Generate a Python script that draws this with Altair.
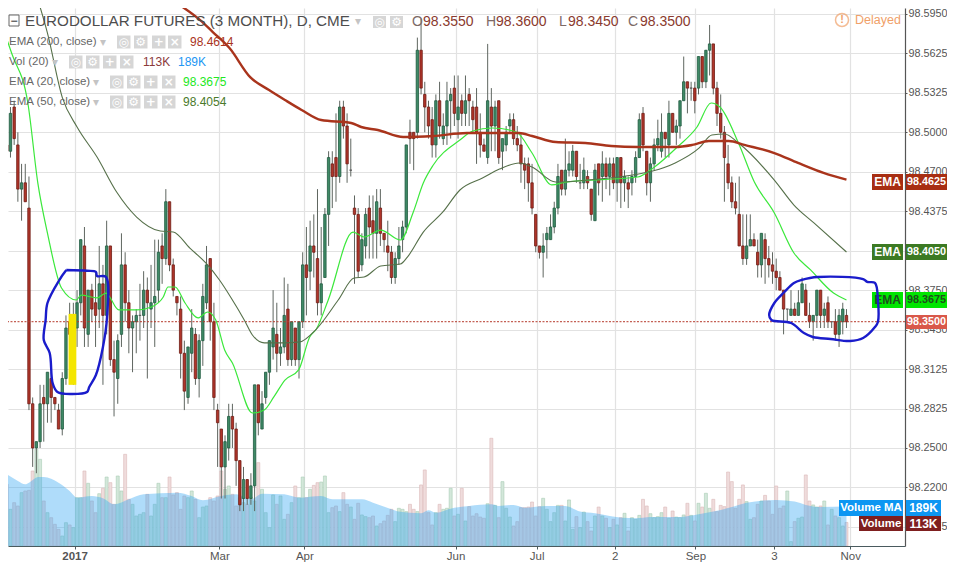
import altair as alt
import pandas as pd

OPEN = [98.49,98.485,98.52,98.49,98.455,98.46,98.44,98.285,98.25,98.255,
98.29,98.285,98.305,98.29,98.28,98.265,98.305,98.35,98.345,98.345,
98.365,98.41,98.34,98.375,98.365,98.36,98.38,98.355,98.41,98.32,
98.305,98.34,98.395,98.365,98.345,98.35,98.355,98.355,98.375,98.36,
98.365,98.375,98.41,98.4,98.445,98.395,98.37,98.36,98.325,98.29,
98.325,98.34,98.305,98.335,98.365,98.4,98.35,98.28,98.265,98.235,
98.25,98.275,98.265,98.24,98.21,98.225,98.21,98.22,98.3,98.265,
98.29,98.31,98.33,98.34,98.325,98.33,98.36,98.32,98.345,98.32,
98.35,98.395,98.39,98.41,98.4,98.365,98.385,98.435,98.475,98.48,
98.465,98.52,98.505,98.47,98.44,98.435,98.395,98.41,98.44,98.43,
98.42,98.44,98.42,98.41,98.405,98.385,98.4,98.415,98.425,98.5,
98.5,98.5,98.565,98.53,98.52,98.51,98.49,98.525,98.495,98.505,
98.525,98.535,98.51,98.525,98.515,98.53,98.52,98.52,98.5,98.49,
98.48,98.52,98.505,98.525,98.485,98.49,98.505,98.51,98.495,98.49,
98.475,98.475,98.46,98.435,98.41,98.405,98.415,98.415,98.425,98.44,
98.47,98.455,98.47,98.47,98.485,98.46,98.46,98.465,98.455,98.43,
98.475,98.465,98.475,98.465,98.475,98.46,98.48,98.46,98.46,98.46,
98.465,98.48,98.515,98.485,98.46,98.475,98.49,98.485,98.5,98.49,
98.515,98.5,98.505,98.525,98.54,98.535,98.535,98.535,98.56,98.54,
98.565,98.57,98.535,98.515,98.5,98.475,98.46,98.445,98.435,98.41,
98.4,98.41,98.415,98.405,98.395,98.415,98.4,98.395,98.39,98.385,
98.375,98.36,98.355,98.36,98.355,98.365,98.375,98.355,98.35,98.355,
98.375,98.355,98.365,98.35,98.35,98.34,98.35,98.355]
CLOSE = [98.485,98.515,98.495,98.455,98.46,98.445,98.285,98.25,98.255,98.285,
98.285,98.31,98.29,98.285,98.265,98.305,98.345,98.34,98.35,98.365,
98.415,98.345,98.375,98.36,98.355,98.38,98.355,98.41,98.32,98.31,
98.335,98.395,98.365,98.345,98.35,98.355,98.355,98.375,98.365,98.365,
98.37,98.405,98.4,98.445,98.395,98.375,98.365,98.325,98.295,98.33,
98.345,98.305,98.335,98.37,98.395,98.35,98.29,98.27,98.235,98.255,
98.275,98.265,98.24,98.205,98.225,98.21,98.22,98.3,98.27,98.285,
98.31,98.335,98.345,98.325,98.33,98.355,98.32,98.35,98.32,98.35,
98.395,98.385,98.41,98.405,98.365,98.38,98.435,98.48,98.465,98.465,
98.52,98.505,98.475,98.47,98.435,98.39,98.415,98.435,98.425,98.42,
98.445,98.42,98.415,98.405,98.385,98.4,98.41,98.425,98.49,98.495,
98.495,98.565,98.535,98.52,98.505,98.49,98.525,98.505,98.505,98.525,
98.53,98.515,98.52,98.515,98.525,98.525,98.51,98.5,98.49,98.485,
98.525,98.505,98.52,98.48,98.495,98.5,98.51,98.495,98.49,98.475,
98.47,98.46,98.44,98.41,98.405,98.41,98.42,98.425,98.44,98.465,
98.455,98.47,98.475,98.485,98.465,98.46,98.47,98.46,98.435,98.47,
98.46,98.475,98.465,98.475,98.46,98.48,98.46,98.465,98.455,98.465,
98.48,98.51,98.49,98.46,98.475,98.49,98.495,98.5,98.495,98.515,
98.5,98.505,98.525,98.54,98.535,98.535,98.525,98.56,98.54,98.565,
98.57,98.535,98.515,98.5,98.48,98.46,98.445,98.44,98.41,98.4,
98.41,98.415,98.41,98.395,98.42,98.4,98.395,98.39,98.385,98.375,
98.36,98.36,98.36,98.355,98.365,98.38,98.355,98.35,98.355,98.375,
98.355,98.36,98.35,98.35,98.34,98.355,98.36,98.35]
HIGH = [98.5,98.52,98.525,98.5,98.475,98.475,98.465,98.29,98.255,98.3,
98.3,98.31,98.31,98.29,98.285,98.31,98.355,98.365,98.365,98.375,
98.415,98.425,98.375,98.38,98.39,98.41,98.395,98.43,98.41,98.335,
98.34,98.42,98.405,98.375,98.355,98.36,98.38,98.39,98.385,98.395,
98.415,98.415,98.42,98.455,98.445,98.4,98.37,98.37,98.335,98.33,
98.36,98.345,98.34,98.38,98.41,98.4,98.365,98.285,98.265,98.26,
98.285,98.285,98.27,98.24,98.235,98.225,98.23,98.3,98.3,98.295,
98.31,98.335,98.375,98.365,98.345,98.385,98.38,98.35,98.345,98.35,
98.405,98.425,98.43,98.435,98.455,98.425,98.44,98.485,98.485,98.515,
98.525,98.525,98.515,98.495,98.45,98.44,98.42,98.44,98.45,98.45,
98.455,98.455,98.42,98.43,98.41,98.405,98.425,98.43,98.49,98.51,
98.5,98.575,98.59,98.54,98.525,98.52,98.53,98.54,98.515,98.54,
98.535,98.545,98.545,98.53,98.545,98.535,98.525,98.535,98.515,98.495,
98.57,98.535,98.525,98.525,98.495,98.505,98.515,98.515,98.505,98.5,
98.48,98.48,98.475,98.435,98.41,98.42,98.425,98.435,98.445,98.475,
98.47,98.495,98.485,98.49,98.485,98.475,98.48,98.47,98.455,98.475,
98.475,98.485,98.48,98.48,98.48,98.48,98.48,98.47,98.465,98.47,
98.485,98.515,98.52,98.485,98.48,98.495,98.51,98.515,98.5,98.525,
98.515,98.51,98.525,98.56,98.54,98.54,98.54,98.56,98.56,98.565,
98.585,98.57,98.54,98.53,98.505,98.49,98.465,98.46,98.465,98.435,
98.435,98.435,98.42,98.415,98.42,98.42,98.41,98.405,98.4,98.39,
98.375,98.36,98.375,98.365,98.375,98.385,98.38,98.365,98.355,98.375,
98.375,98.365,98.37,98.35,98.36,98.36,98.365,98.36]
LOW = [98.47,98.48,98.49,98.445,98.43,98.445,98.28,98.235,98.23,98.25,
98.255,98.27,98.27,98.28,98.265,98.26,98.3,98.33,98.3,98.33,
98.355,98.33,98.33,98.35,98.33,98.345,98.3,98.34,98.315,98.275,
98.285,98.33,98.35,98.325,98.31,98.325,98.335,98.345,98.305,98.345,
98.33,98.365,98.38,98.395,98.39,98.37,98.355,98.305,98.28,98.285,
98.31,98.3,98.29,98.315,98.36,98.335,98.28,98.235,98.21,98.21,
98.24,98.25,98.22,98.2,98.2,98.205,98.205,98.2,98.26,98.265,
98.285,98.3,98.32,98.31,98.315,98.325,98.315,98.315,98.315,98.305,
98.345,98.355,98.375,98.385,98.355,98.355,98.385,98.41,98.44,98.445,
98.46,98.495,98.46,98.465,98.38,98.385,98.39,98.4,98.4,98.4,
98.4,98.41,98.405,98.39,98.38,98.38,98.395,98.405,98.42,98.475,
98.47,98.495,98.53,98.5,98.495,98.48,98.48,98.495,98.49,98.49,
98.495,98.505,98.495,98.505,98.505,98.505,98.5,98.475,98.48,98.485,
98.475,98.485,98.485,98.475,98.47,98.485,98.5,98.49,98.485,98.46,
98.455,98.445,98.435,98.405,98.4,98.385,98.4,98.415,98.42,98.435,
98.45,98.45,98.465,98.465,98.46,98.455,98.455,98.455,98.43,98.43,
98.45,98.445,98.455,98.45,98.455,98.445,98.44,98.445,98.44,98.45,
98.46,98.48,98.485,98.45,98.445,98.47,98.485,98.48,98.48,98.48,
98.5,98.49,98.495,98.525,98.515,98.525,98.515,98.53,98.535,98.535,
98.545,98.53,98.505,98.495,98.445,98.455,98.44,98.435,98.41,98.395,
98.395,98.41,98.41,98.385,98.385,98.38,98.385,98.38,98.375,98.375,
98.34,98.35,98.355,98.355,98.355,98.365,98.355,98.345,98.335,98.345,
98.345,98.345,98.345,98.345,98.335,98.33,98.34,98.345]
VOLUME_K = [296,176,208,192,256,264,267,360,464,416,
216,160,136,104,80,48,112,101,88,232,
232,360,301,216,160,251,277,331,304,200,
336,264,440,224,200,144,152,160,248,144,
200,301,232,232,331,245,256,176,240,232,
264,224,136,187,192,232,216,240,360,272,
288,248,192,232,208,200,235,216,400,272,
160,88,245,200,240,128,152,208,288,232,
331,232,272,291,304,307,336,160,184,192,
165,256,200,187,128,205,149,141,136,144,
96,107,120,147,176,117,181,176,165,200,
176,165,293,365,160,101,160,200,176,181,
277,144,152,277,120,189,144,155,139,133,
203,517,195,136,309,181,139,96,117,184,
184,187,211,144,189,229,176,117,160,195,
195,120,221,80,141,88,163,117,72,144,
187,144,133,88,128,101,136,157,72,136,
128,147,224,192,155,136,141,160,187,133,
168,139,136,149,205,147,120,205,187,253,
181,224,165,195,189,355,309,181,224,293,
213,128,136,200,216,243,216,152,288,181,
192,264,21,117,133,139,341,216,197,187,
192,216,101,176,144,136,96,113]

VOL_MA_BAR = [0,3,5,6,8.5,10,14,17,19,23,26,29,33,37,46,50,53,58,62,66,69,75,79,85,88,90,96,99,104,106,112,114,116,121,125,131,133,137,140,146,151,155,159,163,170,174,181,186,191,196,200,208,213,216,220,227]
VOL_MA_K = [344,312,296,304,331,331,304,264,232,240,229,200,224,248,256,240,219,240,248,224,251,248,232,240,224,224,224,208,176,165,157,171,160,184,192,200,192,197,184,192,192,165,157,144,133,139,139,149,165,187,208,221,213,197,187,189]

EMA200_BAR = [45.5,52.2,55.7,60.2,65.8,70.9,75.2,79.7,85,93.1,95.8,100.3,107.2,115.3,124.4,138.5,142,148.4,156.4,163.4,170.6,180.7,185.3,189.8,195.2,199.4,207.5,213.9,220.8,227]
EMA200 = [98.6032,98.589,98.5794,98.5667,98.5437,98.5335,98.5256,98.5177,98.5097,98.5074,98.5042,98.5018,98.4963,98.4971,98.4994,98.4994,98.4971,98.4923,98.4915,98.4892,98.4884,98.4884,98.49,98.4931,98.4931,98.49,98.4836,98.4757,98.4678,98.4625]
EMA50_BAR = [8.6,11,15,19,24.4,29.7,35.1,41.5,45,49.5,53.8,57.5,60.5,64.2,66.4,69.6,74.9,79.2,83.7,89.6,93.9,96.6,101.1,106.4,108.3,112.6,117.9,122.5,128.6,133.2,138.5,142,148.4,157.2,169.2,174.6,180.7,187.2,190.6,194.1,197.8,207.5,212.8,218.2,227]
EMA50 = [98.6032,98.5786,98.5277,98.5042,98.4804,98.4527,98.4329,98.4218,98.421,98.4083,98.3965,98.383,98.3696,98.3514,98.3395,98.3332,98.3332,98.334,98.3442,98.3672,98.3846,98.3854,98.3941,98.3957,98.4012,98.421,98.4369,98.4543,98.4638,98.4709,98.4757,98.4725,98.4606,98.4622,98.4662,98.4693,98.4757,98.4876,98.4979,98.4987,98.4915,98.4622,98.4424,98.4282,98.4052]
EMA20_BAR = [0,1.4,5.7,8.4,11,14.8,18.8,20.1,24.4,26.8,30.3,35.1,39.1,42.3,43.6,45.5,48.2,51.7,54.3,56.5,58.9,61,66.4,69.6,72.2,75.2,78.9,81.9,83.7,86.9,93.6,96.6,101.1,106.4,109.9,112.6,115.3,122.5,126,131.3,137.7,142,147.3,151.1,170.6,175.1,181.3,186.6,190.4,192.8,197.8,202.1,207.5,212.8,217.3,223.5,227]
EMA20 = [98.5739,98.562,98.5232,98.4598,98.4202,98.3767,98.3672,98.3711,98.3688,98.3727,98.3593,98.3593,98.3617,98.3696,98.3775,98.3775,98.3648,98.353,98.3577,98.3513,98.3276,98.3173,98.2777,98.2801,98.2904,98.3038,98.3118,98.3379,98.3442,98.3672,98.421,98.4171,98.4226,98.4147,98.4369,98.4598,98.4741,98.4939,98.501,98.5034,98.5002,98.4836,98.4583,98.4606,98.4646,98.4725,98.4884,98.5042,98.5232,98.52,98.4915,98.4606,98.4361,98.4044,98.391,98.3727,98.3672]

LOOP_L_BAR = [16.1,21.7,24.1,24.4,26.8,27.1,26,24.1,22.3,21.7,17.5,13.7,12.4,11.6,10,10.5,11,14.2,16.1]
LOOP_L = [98.3909,98.3903,98.3895,98.3862,98.3855,98.3537,98.33,98.3078,98.2983,98.2943,98.2927,98.2943,98.3014,98.3252,98.3355,98.3513,98.3648,98.383,98.3909]
LOOP_R_BAR = [214.7,219.2,231.5,232.6,234.7,235.5,235.5,234.7,231.5,228,222.7,217.9,215.5,212,206.7,206.1,207.5,210.2,212.8,214.7]
LOOP_R = [98.383,98.3854,98.3838,98.3815,98.3807,98.3672,98.3498,98.3458,98.3371,98.3347,98.3363,98.3379,98.341,98.349,98.3514,98.3553,98.3648,98.3735,98.3807,98.383]
YELLOW_BAR = [16.7, 18.8]
YELLOW_PRICE = [98.3562, 98.3]

PRICE_TICKS = [98.59375,98.5625,98.53125,98.5,98.46875,98.4375,98.40625,98.375,98.34375,98.3125,98.28125,98.25,98.21875,98.1875]
PRICE_LABELS = ["98.5950","98.5625","98.5325","98.5000","98.4700","98.4375","98.4050","98.3750","98.3450","98.3125","98.2825","98.2500","98.2200","98.1875"]
DATE_TICKS = [18.33,57.46,80.44,121.33,143.24,164.35,186.16,207.38,228.03]
DATE_LABELS = ["2017","Mar","Apr","Jun","Jul","2","Sep","3","Nov"]
LAST_PRICE = 98.35

FONT = "Liberation Sans"
X_DOMAIN = [1.684, 241.47]
Y_DOMAIN = [98.17237, 98.59844]
VOL_DOMAIN = [0, 2582]
xs = alt.Scale(domain=X_DOMAIN, nice=False, zero=False)
ys = alt.Scale(domain=Y_DOMAIN, nice=False, zero=False)
vs = alt.Scale(domain=VOL_DOMAIN, nice=False)

UP, DOWN = "#3f8a66", "#b0352a"
bars = list(range(len(OPEN)))
candles = pd.DataFrame({"bar": bars, "o": OPEN, "c": CLOSE, "h": HIGH, "l": LOW, "v": VOLUME_K})
candles["fill"] = [UP if c > o else (DOWN if c < o else "#555555") for o, c in zip(OPEN, CLOSE)]
candles["edge"] = [("#1f5a40" if c > o else ("#6e1c14" if c < o else "#555555")) for o, c in zip(OPEN, CLOSE)]
candles["vfill"] = ["#d3e7da" if c >= o else "#efdcdc" for o, c in zip(OPEN, CLOSE)]
candles["vedge"] = ["#a9cdb6" if c >= o else "#dcb9b9" for o, c in zip(OPEN, CLOSE)]

x_lab = "{" + ",".join(f"'{v}':'{t}'" for v, t in zip(DATE_TICKS, DATE_LABELS)) + "}[''+datum.value]"
y_lab = "{" + ",".join(f"'{v}':'{t}'" for v, t in zip(PRICE_TICKS, PRICE_LABELS)) + "}[''+datum.value]"

x_axis = alt.Axis(
    values=DATE_TICKS, labelExpr=x_lab, grid=True, gridColor="#e2e2e2", gridWidth=1.2,
    domainColor="#4a5a5e", domainWidth=1.2, tickColor="#4a5a5e", tickSize=3, labelColor="#555555",
    labelFont=FONT, labelFontSize=11.5, labelPadding=1, labelOverlap=False, labelBound=False, labelFlush=False,
    labelFontWeight={"condition": {"test": "datum.value < 20", "value": "bold"}, "value": "normal"})

axis_src = pd.DataFrame({"x": DATE_TICKS + [DATE_TICKS[-1]] * (len(PRICE_TICKS) - len(DATE_TICKS)), "y": PRICE_TICKS})
axes = alt.Chart(axis_src).mark_point(opacity=0).encode(
    x=alt.X("x:Q", scale=xs, title=None, axis=x_axis),
    y=alt.Y("y:Q", scale=ys, title=None, axis=alt.Axis(
        orient="right", values=PRICE_TICKS, labelExpr=y_lab, grid=True, gridColor="#e2e2e2", gridWidth=1.2,
        domainColor="#555555", domainWidth=1.2, tickColor="#555555", tickSize=2, labelColor="#555555",
        labelFont=FONT, labelFontSize=10.8, labelPadding=1, labelOverlap=False, labelBound=False, labelFlush=False)),
)


def X(f="bar"):
    return alt.X(f"{f}:Q", scale=xs, axis=x_axis, title=None)


def Y(f):
    return alt.Y(f"{f}:Q", scale=ys, axis=None, title=None)


vbars = alt.Chart(candles).mark_bar(size=3, strokeWidth=0.6, clip=True).encode(
    x=X(), y=alt.Y("v:Q", scale=vs, axis=None, title=None), y2=alt.datum(0),
    fill=alt.Fill("vfill:N", scale=None), stroke=alt.Stroke("vedge:N", scale=None))

ma_df = pd.DataFrame({"bar": VOL_MA_BAR, "ma": VOL_MA_K})
ma_area = alt.Chart(ma_df).mark_area(color="#37a7f2", opacity=0.4, clip=True, interpolate="monotone").encode(
    x=X(), y=alt.Y("ma:Q", scale=vs, axis=None, title=None), y2=alt.datum(0))

wicks = alt.Chart(candles).mark_rule(color="#5f6660", strokeWidth=1, clip=True).encode(
    x=X(), y=Y("l"), y2="h:Q")
bodies = alt.Chart(candles).mark_bar(size=2.4, strokeWidth=0.8, clip=True).encode(
    x=X(), y=Y("o"), y2="c:Q",
    fill=alt.Fill("fill:N", scale=None), stroke=alt.Stroke("edge:N", scale=None))

last_line = alt.Chart(pd.DataFrame({"p": [LAST_PRICE]})).mark_rule(
    color="#b5392b", strokeDash=[2, 1.5], strokeWidth=1, clip=True).encode(y=Y("p"))


def line(bx, py, color, w, interp="monotone"):
    d = pd.DataFrame({"bar": bx, "p": py, "n": range(len(bx))})
    return alt.Chart(d).mark_line(color=color, strokeWidth=w, clip=True, interpolate=interp).encode(
        x=X(), y=Y("p"), order=alt.Order("n:Q"))


ema20 = line(EMA20_BAR, EMA20, "#3be83b", 1.2)
ema50 = line(EMA50_BAR, EMA50, "#56704a", 1.1)
ema200 = line(EMA200_BAR, EMA200, "#a9341c", 2.4)
loop_l = line(LOOP_L_BAR, LOOP_L, "#1a1ccb", 2.4, "catmull-rom")
loop_r = line(LOOP_R_BAR, LOOP_R, "#1a1ccb", 2.4, "catmull-rom")
yellow = alt.Chart(pd.DataFrame({"a": [YELLOW_BAR[0]], "b": [YELLOW_BAR[1]], "t": [YELLOW_PRICE[0]], "u": [YELLOW_PRICE[1]]})).mark_rect(
    color="#f4e600", clip=True).encode(x=X("a"), x2="b:Q", y=Y("t"), y2="u:Q")

ONE = pd.DataFrame({"k": [0]})


def rect(x1, y1, x2, y2, color, op=1.0, stroke=None):
    kw = {"color": color, "opacity": op}
    if stroke:
        kw = {"fill": "white", "stroke": stroke, "strokeWidth": 1}
    return alt.Chart(ONE).mark_rect(**kw).encode(
        x=alt.value(x1 - 8), x2=alt.value(x2 - 8), y=alt.value(y1 - 8), y2=alt.value(y2 - 8))


def text(x, y, s, color="#666666", size=12, weight="normal", align="left", font=FONT):
    return alt.Chart(ONE).mark_text(align=align, baseline="middle", color=color, fontSize=size,
                                    fontWeight=weight, font=font).encode(
        x=alt.value(x - 8), y=alt.value(y - 8), text=alt.value(s))


over = []
over += [rect(9, 15, 19, 26, "white", stroke="#666666"), text(14, 20.5, "\u2212", "#666666", 12, "bold", "center"),
         text(25, 21, "EURODOLLAR FUTURES (3 MONTH), D, CME", "#4d4d4d", 15.2)]


def icons(xs_, y):
    out = []
    for x0, g in zip(xs_, ["\u25ce", "\u2699", "+", "\u00d7"]):
        out += [rect(x0, y - 6.5, x0 + 13.5, y + 6.5, "#d6d6d6"),
                text(x0 + 6.7, y, g, "white", 12, "bold", "center", "DejaVu Sans")]
    return out


def tri(x, y):
    return text(x, y, "\u25be", "#c4c4c4", 12, "normal", "center", "DejaVu Sans")


over += [rect(373, 16, 386, 28, "#d6d6d6"), text(379.5, 22, "\u25ce", "white", 12, "bold", "center", "DejaVu Sans"),
         rect(390, 16, 403, 28, "#d6d6d6"), text(396.5, 22, "\u2699", "white", 12, "bold", "center", "DejaVu Sans"),
         tri(358, 21)]
for lx, ls, vx, vs_ in [(412, "O", 423, "98.3550"), (486, "H", 496, "98.3600"), (559, "L", 568, "98.3450"), (628, "C", 640, "98.3500")]:
    over += [text(lx, 22, ls, "#7d6a66", 14), text(vx, 22, vs_, "#8a3a2e", 14)]
over += [text(855, 20, "Delayed", "#f0a068", 12.5),
         alt.Chart(ONE).mark_point(color="#f0a068", size=170, strokeWidth=1.5).encode(x=alt.value(842 - 8), y=alt.value(20 - 8)),
         text(842, 20, "!", "#f0a068", 11, "bold", "center")]
over += [text(9, 42, "EMA (200, close)", size=11.5), tri(103, 42)] + icons([117, 134, 152, 168], 42) + [text(190, 42, "98.4614", "#a9341c", 12)]
over += [text(9, 62, "Vol (20)", size=11.5), tri(55, 62)] + icons([69, 86, 103, 120], 62) + [text(143, 62, "113K", "#8b3a3a", 12), text(178, 62, "189K", "#2196f3", 12)]
over += [text(9, 82, "EMA (20, close)", size=11.5), tri(96, 82)] + icons([110, 127, 144, 162], 82) + [text(183, 82, "98.3675", "#22e822", 12)]
over += [text(9, 102, "EMA (50, close)", size=11.5), tri(96, 102)] + icons([110, 127, 144, 162], 102) + [text(183, 102, "98.4054", "#4a7a2a", 12)]
for y1, y2, col, fg, val in [(174, 190, "#a82e12", "white", "98.4625"), (244, 260, "#3c7a23", "white", "98.4050"), (292, 308, "#00e600", "#1d4d1d", "98.3675")]:
    over += [rect(872, y1, 903, y2, col), rect(906, y1, 947, y2, col),
             text(887.5, (y1 + y2) / 2, "EMA", fg, 12, "bold", "center"),
             text(926.5, (y1 + y2) / 2, val, fg, 10.8, "bold", "center")]
over += [rect(906, 315, 947, 329, "#d9584a"), text(926.5, 322, "98.3500", "white", 10.8, "bold", "center")]
over += [rect(839, 500, 903, 516, "#0d96f2"), rect(906, 500, 941, 516, "#0d96f2"),
         text(871, 508, "Volume MA", "white", 11.5, "bold", "center"), text(923.5, 508, "189K", "white", 12, "bold", "center"),
         rect(859, 516, 903, 531, "#7f1f1f"), rect(906, 516, 941, 531, "#7f1f1f"),
         text(881, 523.5, "Volume", "white", 11.5, "bold", "center"), text(923.5, 523.5, "113K", "white", 12, "bold", "center")]

chart = alt.layer(
    axes, vbars, ma_area, wicks, bodies, last_line, yellow, ema20, ema50, ema200, *over, loop_l, loop_r
).resolve_scale(y="independent").properties(
    width=897, height=538,
    padding={"left": 0, "top": 0, "right": 42, "bottom": 18},
    autosize=alt.AutoSizeParams(type="none"),
    background="white",
).configure_view(stroke=None)

chart.save("out.html", embed_options={"renderer": "svg", "actions": False})
